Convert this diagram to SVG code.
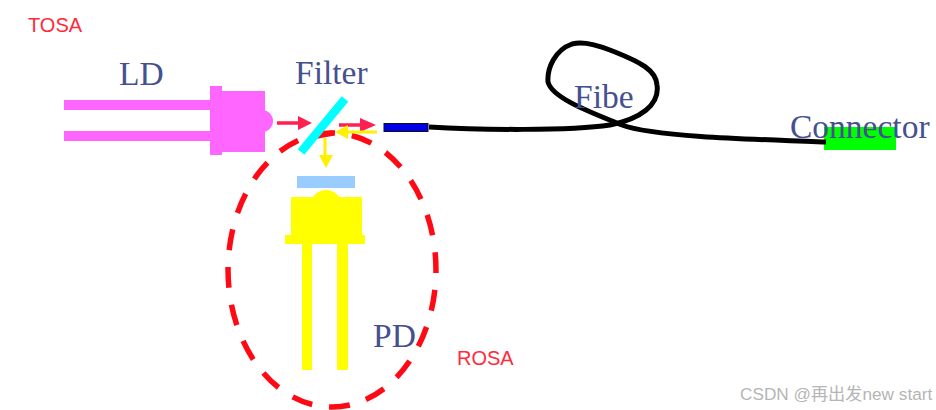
<svg xmlns="http://www.w3.org/2000/svg" width="936" height="410" viewBox="0 0 936 410">
<style>
.lbl{font-family:"Liberation Serif",serif;font-size:33.500px;fill:#44508f}
.tag{font-family:"Liberation Sans",sans-serif;font-size:20px;fill:#ff2a3a}
.red{stroke:#ff2050;stroke-width:3.500;fill:none}
.yel{stroke:#fff000;stroke-width:3;fill:none}
.pink{fill:#ff66ff}
.pdy{fill:#ffff00}
</style>
<rect width="936" height="410" fill="#fff"/>
<g id="tosa-label"><text class="tag" x="28" y="32">TOSA</text></g>
<g id="ld">
<rect class="pink" x="64" y="100" width="150" height="10"/>
<rect class="pink" x="64" y="131" width="150" height="10"/>
<rect class="pink" x="210" y="86" width="12" height="69"/>
<rect class="pink" x="220" y="91" width="45" height="61"/>
<circle class="pink" cx="262" cy="121" r="11"/>
<text class="lbl" x="119" y="85">LD</text>
</g>
<g id="pd">
<rect x="297" y="176" width="58" height="12" fill="#99ccff"/>
<rect class="pdy" x="291" y="197" width="71" height="40"/>
<ellipse class="pdy" cx="326" cy="202" rx="14" ry="12"/>
<rect class="pdy" x="285" y="235" width="80" height="9"/>
<rect class="pdy" x="302" y="244" width="10" height="126"/>
<rect class="pdy" x="337" y="244" width="11" height="126"/>
<text class="lbl" x="373" y="347">PD</text>
</g>
<g id="fiber-tip"><rect x="384" y="123.500" width="44" height="8" fill="#0000e6" stroke="#111" stroke-width="1"/></g>
<g id="connector">
<rect x="824" y="127" width="72" height="23" fill="#00ff00"/>
<text class="lbl" x="790" y="138">Connector</text>
</g>
<g id="rosa-label"><text class="tag" x="457" y="365">ROSA</text></g>
<g id="connectors">
<path d="M429 127C480 130 570 131 610 125C640 119 660 105 657 85C656 70 640 62 615 52C600 46 585 41 572 44C555 50 547 68 548 82C552 98 590 112 622 125C650 136 740 139 826 142" fill="none" stroke="#000" stroke-width="5"/>
<!-- dashed enclosure, traced clockwise from its top point -->
<path d="M332 133A104 137 0 0 1 332 407A104 137 0 0 1 332 133Z" fill="none" stroke="#ff0a14" stroke-width="5.500" pathLength="760" stroke-dasharray="21 17" stroke-dashoffset="-20"/>
<path d="M333 133L311 137" fill="none" stroke="#ff0a14" stroke-width="5.500"/>
<path class="red" d="M277 123H300"/>
<path d="M298 116L312 123L298 130Z" fill="#ff2050"/>
<path class="red" d="M339 125H362"/>
<path d="M360 118L376 125L360 132Z" fill="#ff2050"/>
<path class="yel" d="M377 132H346"/>
<path d="M348 125L335 132L348 139Z" fill="#fff000"/>
<path class="yel" d="M325 138V156"/>
<path d="M319 155H333L326 168Z" fill="#fff000"/>
</g>
<g id="filter">
<path d="M345 99L301 152" stroke="#00ffff" stroke-width="8.500" fill="none"/>
<text class="lbl" x="295" y="84">Filter</text>
</g>
<g id="fibre-label"><text class="lbl" x="574" y="108">Fibe</text></g>
<g id="credit"><text x="740" y="400" font-family="'Liberation Sans','Noto Sans CJK SC',sans-serif" font-size="17.200" fill="#b5b5b5">CSDN @再出发new start</text></g>
</svg>
